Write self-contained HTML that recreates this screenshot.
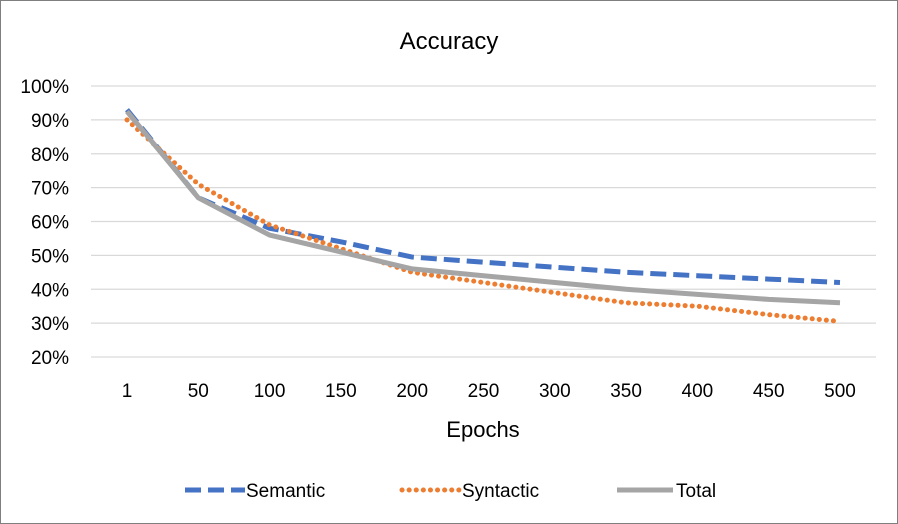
<!DOCTYPE html>
<html><head><meta charset="utf-8"><style>
body{margin:0;background:#fff;font-family:"Liberation Sans",sans-serif}
svg{display:block}
</style></head><body>
<svg width="898" height="524" id="c">
<rect x="0.5" y="0.5" width="897" height="523" fill="#fff" stroke="#7f7f7f"/>
<text x="449" y="49" text-anchor="middle" font-size="24" fill="#000">Accuracy</text>
<text x="483" y="437" text-anchor="middle" font-size="22" fill="#000">Epochs</text>
<g id="grid"></g><g id="ylab"></g><g id="xlab"></g><g id="series"></g>
<g>
<line x1="185" y1="490" x2="245" y2="490" stroke="#4472c4" stroke-width="5" stroke-dasharray="16,7"/>
<text x="246" y="497" font-size="19">Semantic</text>
<line x1="402" y1="490" x2="460" y2="490" stroke="#ed7d31" stroke-width="5" stroke-linecap="round" stroke-dasharray="0.1,7"/>
<text x="462" y="497" font-size="19">Syntactic</text>
<line x1="617" y1="490" x2="673" y2="490" stroke="#a5a5a5" stroke-width="5"/>
<text x="676" y="497" font-size="19">Total</text>
</g>
</svg>
<script>
const categories=["1","50","100","150","200","250","300","350","400","450","500"];
const yTicks=[20,30,40,50,60,70,80,90,100];
const semantic=[93,67,58,54,49.5,48,46.5,45,44,43,42];
const syntactic=[90,71,59,52,45,42,39,36,35,32.5,30.5];
const total=[92.5,67,56,51,46,44,42,40,38.5,37,36];
const NS="http://www.w3.org/2000/svg";
const X=i=>127+i*(840-127)/(categories.length-1);
const Y=v=>357-(v-20)*(357-86)/80;
function mk(t,a,p){const e=document.createElementNS(NS,t);for(const k in a)e.setAttribute(k,a[k]);document.getElementById(p).appendChild(e);return e;}
yTicks.forEach(v=>{
 const l=mk('line',{x1:91,x2:876,y1:Y(v),y2:Y(v),stroke:'#d9d9d9','stroke-width':1.3},'grid');
 
 
 const t=mk('text',{x:69,y:Y(v)+7,'text-anchor':'end','font-size':19},'ylab');t.textContent=v+'%';
 
 
});
categories.forEach((c,i)=>{
 const t=mk('text',{x:X(i),y:397,'text-anchor':'middle','font-size':19},'xlab');t.textContent=c;
 
 
});
function line(d,attrs,name){
 const p=mk('polyline',Object.assign({points:d.map((v,i)=>X(i)+','+Y(v)).join(' '),fill:'none','stroke-linejoin':'round'},attrs),'series');
 
 
}
line(semantic,{stroke:'#4472c4','stroke-width':5,'stroke-dasharray':'16,7'},'semantic-line');
line(syntactic,{stroke:'#ed7d31','stroke-width':5,'stroke-linecap':'round','stroke-dasharray':'0.1,7'},'syntactic-line');
line(total,{stroke:'#a5a5a5','stroke-width':5},'total-line');
</script>
</body></html>
